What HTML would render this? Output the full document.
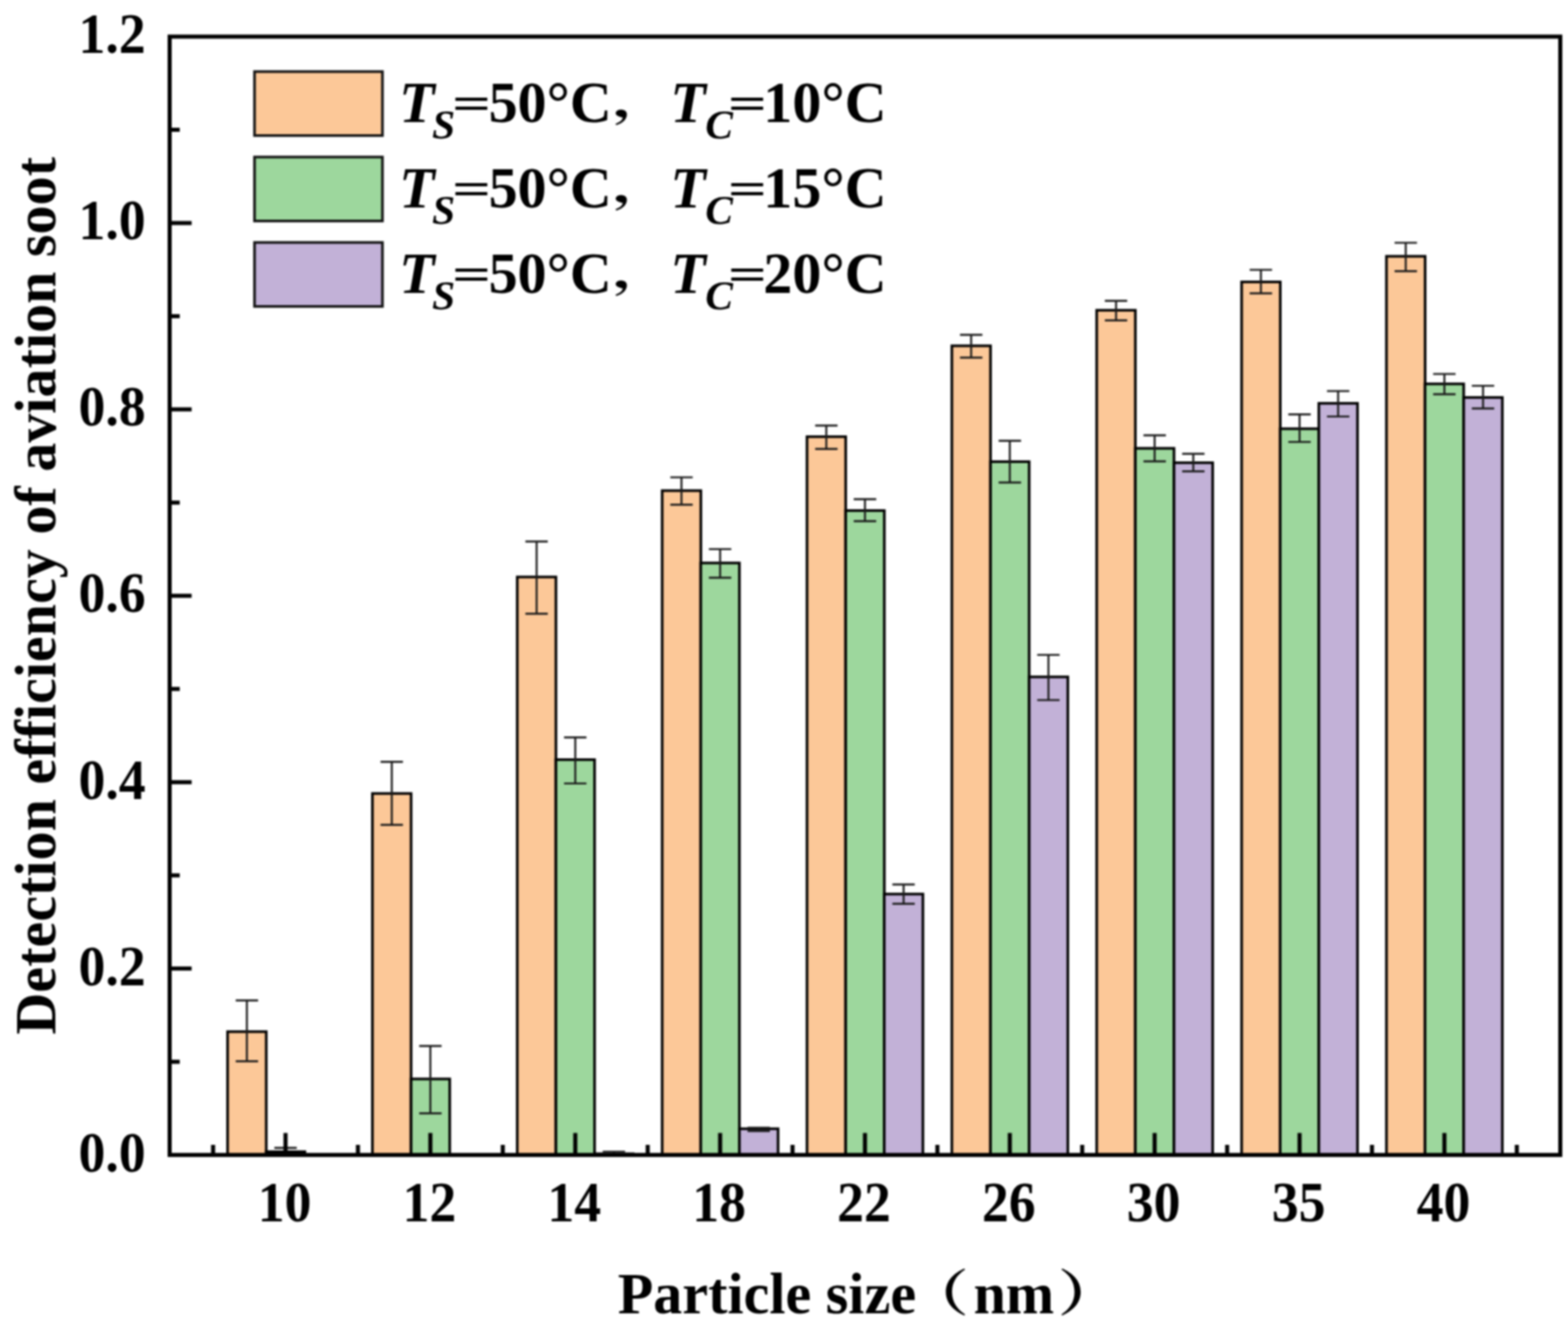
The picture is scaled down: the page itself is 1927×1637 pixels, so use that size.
<!DOCTYPE html>
<html lang="en">
<head>
<meta charset="utf-8">
<title>Detection efficiency of aviation soot</title>
<style>
html,body{margin:0;padding:0;background:#fff;}
body{width:1927px;height:1637px;overflow:hidden;}
svg{display:block;filter:blur(1px);}
text{font-family:"Liberation Serif","Noto Serif CJK SC",serif;font-weight:bold;fill:#000;}
.tk{font-size:66px;}
.tt{font-size:71.4px;}
.it{font-style:italic;}
.sub{font-style:italic;font-size:51px;}
.cj{font-family:"Liberation Serif","Noto Serif CJK SC",serif;}
</style>
</head>
<body>
<svg width="1927" height="1637" viewBox="0 0 1927 1637">
<rect x="0" y="0" width="1927" height="1637" fill="#ffffff"/>
<g stroke="#000" stroke-width="3.2" stroke-linejoin="miter">
<rect x="279.7" y="1267.9" width="47.5" height="151.5" fill="#fcc898"/>
<rect x="457.7" y="975.2" width="47.5" height="444.2" fill="#fcc898"/>
<rect x="635.7" y="709.1" width="47.5" height="710.3" fill="#fcc898"/>
<rect x="813.8" y="603.0" width="47.5" height="816.4" fill="#fcc898"/>
<rect x="991.8" y="536.7" width="47.5" height="882.7" fill="#fcc898"/>
<rect x="1169.8" y="425.0" width="47.5" height="994.4" fill="#fcc898"/>
<rect x="1347.8" y="381.3" width="47.5" height="1038.1" fill="#fcc898"/>
<rect x="1525.9" y="346.5" width="47.5" height="1072.9" fill="#fcc898"/>
<rect x="1703.9" y="315.0" width="47.5" height="1104.4" fill="#fcc898"/>
<rect x="327.2" y="1415.4" width="47.5" height="4.0" fill="#9dd79d"/>
<rect x="505.2" y="1326.0" width="47.5" height="93.4" fill="#9dd79d"/>
<rect x="683.2" y="933.6" width="47.5" height="485.8" fill="#9dd79d"/>
<rect x="861.2" y="691.9" width="47.5" height="727.5" fill="#9dd79d"/>
<rect x="1039.3" y="627.5" width="47.5" height="791.9" fill="#9dd79d"/>
<rect x="1217.3" y="567.4" width="47.5" height="852.0" fill="#9dd79d"/>
<rect x="1395.3" y="551.0" width="47.5" height="868.4" fill="#9dd79d"/>
<rect x="1573.3" y="526.9" width="47.5" height="892.5" fill="#9dd79d"/>
<rect x="1751.3" y="471.8" width="47.5" height="947.6" fill="#9dd79d"/>
<rect x="730.7" y="1418.0" width="47.5" height="1.4" fill="#c2b1d7"/>
<rect x="908.7" y="1387.2" width="47.5" height="32.2" fill="#c2b1d7"/>
<rect x="1086.7" y="1098.8" width="47.5" height="320.6" fill="#c2b1d7"/>
<rect x="1264.8" y="831.9" width="47.5" height="587.5" fill="#c2b1d7"/>
<rect x="1442.8" y="568.7" width="47.5" height="850.7" fill="#c2b1d7"/>
<rect x="1620.8" y="495.7" width="47.5" height="923.7" fill="#c2b1d7"/>
<rect x="1798.8" y="488.5" width="47.5" height="930.9" fill="#c2b1d7"/>
</g>
<g stroke="#1a1a1a" stroke-width="2.4" fill="none">
<path d="M289.7 1229.5H317.2M289.7 1304.2H317.2M303.4 1229.5V1304.2"/>
<path d="M467.7 936.3H495.2M467.7 1013.8H495.2M481.5 936.3V1013.8"/>
<path d="M645.7 665.5H673.2M645.7 754.2H673.2M659.5 665.5V754.2"/>
<path d="M823.8 586.6H851.3M823.8 620.2H851.3M837.5 586.6V620.2"/>
<path d="M1001.8 523.0H1029.3M1001.8 551.7H1029.3M1015.5 523.0V551.7"/>
<path d="M1179.8 411.5H1207.3M1179.8 439.5H1207.3M1193.5 411.5V439.5"/>
<path d="M1357.8 369.7H1385.3M1357.8 393.8H1385.3M1371.6 369.7V393.8"/>
<path d="M1535.8 331.6H1563.3M1535.8 360.5H1563.3M1549.6 331.6V360.5"/>
<path d="M1713.9 298.4H1741.4M1713.9 333.3H1741.4M1727.6 298.4V333.3"/>
<path d="M337.2 1410.7H364.7M337.2 1420.0H364.7M350.9 1410.7V1420.0"/>
<path d="M515.2 1285.5H542.7M515.2 1368.2H542.7M528.9 1285.5V1368.2"/>
<path d="M693.2 906.2H720.7M693.2 962.9H720.7M707.0 906.2V962.9"/>
<path d="M871.2 674.9H898.7M871.2 710.0H898.7M885.0 674.9V710.0"/>
<path d="M1049.2 613.5H1076.8M1049.2 640.5H1076.8M1063.0 613.5V640.5"/>
<path d="M1227.3 541.8H1254.8M1227.3 593.0H1254.8M1241.0 541.8V593.0"/>
<path d="M1405.3 535.0H1432.8M1405.3 567.0H1432.8M1419.0 535.0V567.0"/>
<path d="M1583.3 509.2H1610.8M1583.3 543.1H1610.8M1597.1 509.2V543.1"/>
<path d="M1761.3 459.6H1788.8M1761.3 484.5H1788.8M1775.1 459.6V484.5"/>
<path d="M740.7 1415.4H768.2M740.7 1420.0H768.2M754.4 1415.4V1420.0"/>
<path d="M918.7 1386.0H946.2M918.7 1390.0H946.2M932.5 1386.0V1390.0"/>
<path d="M1096.7 1087.0H1124.2M1096.7 1110.8H1124.2M1110.5 1087.0V1110.8"/>
<path d="M1274.7 804.9H1302.2M1274.7 860.4H1302.2M1288.5 804.9V860.4"/>
<path d="M1452.8 557.7H1480.3M1452.8 579.3H1480.3M1466.5 557.7V579.3"/>
<path d="M1630.8 480.6H1658.3M1630.8 511.9H1658.3M1644.5 480.6V511.9"/>
<path d="M1808.8 474.1H1836.3M1808.8 502.0H1836.3M1822.6 474.1V502.0"/>
</g>
<rect x="203.5" y="1419.4" width="1719.0" height="12" fill="#fff"/>
<g stroke="#000" stroke-width="5.0" fill="none" stroke-linecap="butt">
<rect x="208.5" y="45.0" width="1709.0" height="1374.4"/>
<line x1="208.5" y1="1304.9" x2="220.9" y2="1304.9"/>
<line x1="208.5" y1="1190.3" x2="235.5" y2="1190.3"/>
<line x1="208.5" y1="1075.8" x2="220.9" y2="1075.8"/>
<line x1="208.5" y1="961.3" x2="235.5" y2="961.3"/>
<line x1="208.5" y1="846.7" x2="220.9" y2="846.7"/>
<line x1="208.5" y1="732.2" x2="235.5" y2="732.2"/>
<line x1="208.5" y1="617.7" x2="220.9" y2="617.7"/>
<line x1="208.5" y1="503.1" x2="235.5" y2="503.1"/>
<line x1="208.5" y1="388.6" x2="220.9" y2="388.6"/>
<line x1="208.5" y1="274.1" x2="235.5" y2="274.1"/>
<line x1="208.5" y1="159.5" x2="220.9" y2="159.5"/>
<line x1="350.9" y1="1419.4" x2="350.9" y2="1392.4"/>
<line x1="528.9" y1="1419.4" x2="528.9" y2="1392.4"/>
<line x1="707.0" y1="1419.4" x2="707.0" y2="1392.4"/>
<line x1="885.0" y1="1419.4" x2="885.0" y2="1392.4"/>
<line x1="1063.0" y1="1419.4" x2="1063.0" y2="1392.4"/>
<line x1="1241.0" y1="1419.4" x2="1241.0" y2="1392.4"/>
<line x1="1419.0" y1="1419.4" x2="1419.0" y2="1392.4"/>
<line x1="1597.1" y1="1419.4" x2="1597.1" y2="1392.4"/>
<line x1="1775.1" y1="1419.4" x2="1775.1" y2="1392.4"/>
<line x1="261.9" y1="1419.4" x2="261.9" y2="1407.0"/>
<line x1="439.9" y1="1419.4" x2="439.9" y2="1407.0"/>
<line x1="617.9" y1="1419.4" x2="617.9" y2="1407.0"/>
<line x1="796.0" y1="1419.4" x2="796.0" y2="1407.0"/>
<line x1="974.0" y1="1419.4" x2="974.0" y2="1407.0"/>
<line x1="1152.0" y1="1419.4" x2="1152.0" y2="1407.0"/>
<line x1="1330.0" y1="1419.4" x2="1330.0" y2="1407.0"/>
<line x1="1508.1" y1="1419.4" x2="1508.1" y2="1407.0"/>
<line x1="1686.1" y1="1419.4" x2="1686.1" y2="1407.0"/>
<line x1="1864.1" y1="1419.4" x2="1864.1" y2="1407.0"/>
</g>
<text class="tk" transform="translate(179 1439.6) scale(1 1.050)" text-anchor="end">0.0</text>
<text class="tk" transform="translate(179 1210.5) scale(1 1.050)" text-anchor="end">0.2</text>
<text class="tk" transform="translate(179 981.5) scale(1 1.050)" text-anchor="end">0.4</text>
<text class="tk" transform="translate(179 752.4) scale(1 1.050)" text-anchor="end">0.6</text>
<text class="tk" transform="translate(179 523.3) scale(1 1.050)" text-anchor="end">0.8</text>
<text class="tk" transform="translate(179 294.3) scale(1 1.050)" text-anchor="end">1.0</text>
<text class="tk" transform="translate(179 65.2) scale(1 1.050)" text-anchor="end">1.2</text>
<text class="tk" transform="translate(349.7 1500.7) scale(1 1.050)" text-anchor="middle">10</text>
<text class="tk" transform="translate(527.7 1500.7) scale(1 1.050)" text-anchor="middle">12</text>
<text class="tk" transform="translate(705.8 1500.7) scale(1 1.050)" text-anchor="middle">14</text>
<text class="tk" transform="translate(883.8 1500.7) scale(1 1.050)" text-anchor="middle">18</text>
<text class="tk" transform="translate(1061.8 1500.7) scale(1 1.050)" text-anchor="middle">22</text>
<text class="tk" transform="translate(1239.8 1500.7) scale(1 1.050)" text-anchor="middle">26</text>
<text class="tk" transform="translate(1417.8 1500.7) scale(1 1.050)" text-anchor="middle">30</text>
<text class="tk" transform="translate(1595.9 1500.7) scale(1 1.050)" text-anchor="middle">35</text>
<text class="tk" transform="translate(1773.9 1500.7) scale(1 1.050)" text-anchor="middle">40</text>
<text class="tt" x="759.2" y="1613.5">Particle size</text>
<text class="cj" font-size="61" font-weight="300" transform="translate(1111.4 1611.2) scale(1.3 1)">（</text>
<text class="tt" x="1196.4" y="1613.5">nm</text>
<text class="cj" font-size="61" font-weight="300" transform="translate(1299.8 1611.2) scale(1.3 1)">）</text>
<text class="tt" transform="translate(67.8 732.3) rotate(-90)" text-anchor="middle">Detection efficiency of aviation soot</text>
<rect x="312.8" y="88.0" width="157.2" height="78.6" fill="#fcc898" stroke="#111" stroke-width="3.2"/>
<text class="tt it" x="490.6" y="150.4">T</text>
<text class="sub" x="530.9" y="170.0">S</text>
<text class="tt" transform="translate(555.5 146.2) scale(1.18 0.81)">=</text>
<text class="tt" x="600.4" y="150.4">50°C</text>
<text class="cj" font-size="71.4" font-weight="700" transform="translate(752.3 141.5) scale(1.09 0.72)">，</text>
<text class="tt it" x="823.8" y="150.4">T</text>
<text class="sub" x="866.7" y="170.0">C</text>
<text class="tt" transform="translate(894.4 146.2) scale(1.18 0.81)">=</text>
<text class="tt" x="938" y="150.4">10°C</text>
<rect x="312.8" y="193.0" width="157.2" height="78.6" fill="#9dd79d" stroke="#111" stroke-width="3.2"/>
<text class="tt it" x="490.6" y="255.4">T</text>
<text class="sub" x="530.9" y="275.0">S</text>
<text class="tt" transform="translate(555.5 251.2) scale(1.18 0.81)">=</text>
<text class="tt" x="600.4" y="255.4">50°C</text>
<text class="cj" font-size="71.4" font-weight="700" transform="translate(752.3 246.5) scale(1.09 0.72)">，</text>
<text class="tt it" x="823.8" y="255.4">T</text>
<text class="sub" x="866.7" y="275.0">C</text>
<text class="tt" transform="translate(894.4 251.2) scale(1.18 0.81)">=</text>
<text class="tt" x="938" y="255.4">15°C</text>
<rect x="312.8" y="298.0" width="157.2" height="78.6" fill="#c2b1d7" stroke="#111" stroke-width="3.2"/>
<text class="tt it" x="490.6" y="360.4">T</text>
<text class="sub" x="530.9" y="380.0">S</text>
<text class="tt" transform="translate(555.5 356.2) scale(1.18 0.81)">=</text>
<text class="tt" x="600.4" y="360.4">50°C</text>
<text class="cj" font-size="71.4" font-weight="700" transform="translate(752.3 351.5) scale(1.09 0.72)">，</text>
<text class="tt it" x="823.8" y="360.4">T</text>
<text class="sub" x="866.7" y="380.0">C</text>
<text class="tt" transform="translate(894.4 356.2) scale(1.18 0.81)">=</text>
<text class="tt" x="938" y="360.4">20°C</text>
</svg>
</body>
</html>
